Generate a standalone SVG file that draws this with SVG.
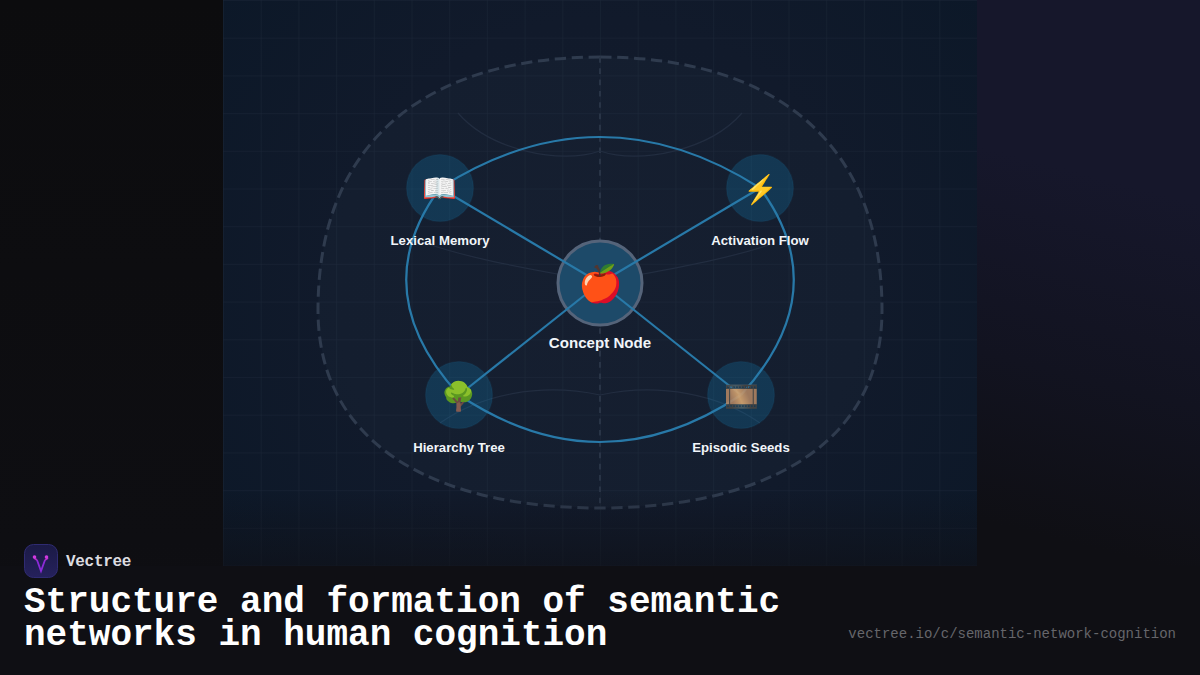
<svg xmlns="http://www.w3.org/2000/svg" width="1200" height="675" viewBox="0 0 1200 675">
<defs>
<linearGradient id="base" x1="0" y1="0" x2="0" y2="1"><stop offset="0" stop-color="#0c0c0e"/><stop offset="0.8" stop-color="#0e0e12"/><stop offset="1" stop-color="#0f0f14"/></linearGradient>
<linearGradient id="bg" gradientUnits="userSpaceOnUse" x1="1150" y1="190" x2="1060" y2="540"><stop offset="0" stop-color="#16172b"/><stop offset="0.55" stop-color="#121320"/><stop offset="1" stop-color="#0f0f14"/></linearGradient>
<radialGradient id="panel" gradientUnits="userSpaceOnUse" cx="600" cy="283" r="480"><stop offset="0" stop-color="#131b2c"/><stop offset="0.55" stop-color="#111a2b"/><stop offset="1" stop-color="#0c1828"/></radialGradient>
<linearGradient id="fade" x1="0" y1="0" x2="0" y2="1"><stop offset="0" stop-color="#0f0f14" stop-opacity="0"/><stop offset="1" stop-color="#0f0f14" stop-opacity="0.55"/></linearGradient>
<linearGradient id="logo" x1="0" y1="0" x2="0" y2="1"><stop offset="0" stop-color="#1b1a45"/><stop offset="1" stop-color="#25215c"/></linearGradient>
<pattern id="grid" width="37.7" height="37.7" patternUnits="userSpaceOnUse" x="223" y="0"><path d="M37.7 0H0V37.7" fill="none" stroke="#1b2637" stroke-width="1"/></pattern>
</defs>
<style>
.lbl{font-family:"Liberation Sans",Arial,sans-serif;font-weight:700;font-size:13.2px;fill:#f1f5f9;text-anchor:middle}
.emo{font-family:"Noto Color Emoji","Liberation Sans",sans-serif;text-anchor:middle;font-size:28px}
.node{fill:#0ea5e9;fill-opacity:.19;stroke:#38bdf8;stroke-opacity:.05;stroke-width:1.5}
.link{fill:none;stroke:#2879a8;stroke-width:2.2}
.faint{fill:none;stroke:#222d40;stroke-width:1.2}
.mono{font-family:"Liberation Mono","Courier New",monospace}
</style>
<rect width="1200" height="675" fill="url(#base)"/>
<rect x="977" width="223" height="566" fill="url(#bg)"/>
<g id="panel-bg">
<rect x="223" width="754" height="566" fill="url(#panel)"/>
<rect x="223" width="754" height="566" fill="url(#grid)"/>
</g>
<g id="brain">
<path d="M600 57C440 57 318 130 318 310C318 454 450 508 600 508C750 508 882 454 882 310C882 130 760 57 600 57Z" fill="#8aa0b8" fill-opacity=".03" stroke="#2f3b4e" stroke-width="3" stroke-dasharray="11.300 5.650"/>
<path d="M600 57V506" fill="none" stroke="#2a3648" stroke-width="1.900" stroke-dasharray="5.650 5.650"/>
<path class="faint" d="M458 113C490 150 560 165 600 151C640 165 710 150 742 113"/>
<path class="faint" d="M425 243C480 262 550 272 600 282C650 272 720 262 775 243"/>
<path class="faint" d="M440 423C480 395 540 382 600 395C660 382 720 395 760 423"/>
</g>
<g id="nodes-bg">
<circle class="node" cx="440" cy="188" r="33.5"/>
<circle class="node" cx="760" cy="188" r="33.5"/>
<circle class="node" cx="459" cy="395" r="33.5"/>
<circle class="node" cx="741" cy="395" r="33.5"/>
<circle cx="600" cy="283" r="42" fill="#1d4a69" stroke="#55647a" stroke-width="3"/>
</g>
<g id="connectors">
<path class="link" d="M440 188Q600 86 760 188"/>
<path class="link" d="M760 188Q836 291 741 395"/>
<path class="link" d="M741 395Q600 489 459 395"/>
<path class="link" d="M459 395Q364 291 440 188"/>
<path class="link" d="M600 283L440 188"/>
<path class="link" d="M600 283L760 188"/>
<path class="link" d="M600 283L459 395"/>
<path class="link" d="M600 283L741 395"/>
</g>
<g id="node-lexical"><text class="emo" x="440" y="198">📖</text><text class="lbl" x="440" y="245">Lexical Memory</text></g>
<g id="node-activation"><text class="emo" x="761" y="199">⚡</text><text class="lbl" x="760" y="245">Activation Flow</text></g>
<g id="node-hierarchy"><text class="emo" x="459" y="406">🌳</text><text class="lbl" x="459" y="452">Hierarchy Tree</text></g>
<g id="node-episodic"><text class="emo" x="742" y="406">🎞️</text><text class="lbl" x="741" y="452">Episodic Seeds</text></g>
<g id="node-concept"><text class="emo" x="600.500" y="295.500" style="font-size:36px">🍎</text><text class="lbl" x="600" y="348" style="font-size:15.1px">Concept Node</text></g>
<g id="footer">
<rect x="223" y="490" width="754" height="76" fill="url(#fade)"/>
<rect x="0" y="566" width="1200" height="109" fill="#0f0f14"/>
<rect x="24.500" y="544.500" width="33" height="33" rx="9" fill="url(#logo)" stroke="#2f2b72"/>
<path d="M37 560L41 571L45 560" fill="none" stroke="#8b2bd8" stroke-width="1.800"/>
<path d="M37 560L34 558M45 560L48 558" fill="none" stroke="#b52ac6" stroke-width="1.800"/>
<circle cx="34.500" cy="557" r="1.800" fill="#d13be0"/><circle cx="46.500" cy="557" r="1.800" fill="#d13be0"/>
<text class="mono" x="66" y="565.500" font-size="16" font-weight="700" letter-spacing="-.3" fill="#dcdce0">Vectree</text>
<text class="mono" x="24" y="612" font-size="36" font-weight="700" fill="#ffffff">Structure and formation of semantic</text>
<text class="mono" x="24" y="645" font-size="36" font-weight="700" fill="#ffffff">networks in human cognition</text>
<text class="mono" x="1176" y="637.500" font-size="14" fill="#66666b" text-anchor="end">vectree.io/c/semantic-network-cognition</text>
</g>
</svg>
